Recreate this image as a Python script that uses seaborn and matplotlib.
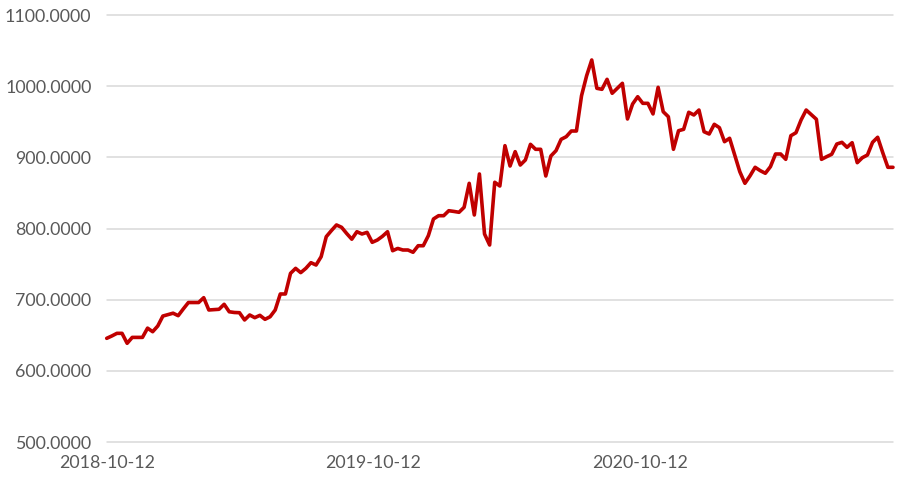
"""
Weekly price line chart, Oct 2018 - Sep 2021
Excel-style single red line with light horizontal gridlines
"""
import matplotlib
matplotlib.use("Agg")
import matplotlib.pyplot as plt
import matplotlib.dates as mdates
import matplotlib.ticker as mticker
import numpy as np
import pandas as pd
import seaborn as sns


# Weekly observations (Fridays), first one on 2018-10-12
START_DATE = "2018-10-12"

PRICES = [
    645.7, 649.0, 652.7, 652.7, 638.7, 647.0, 647.0, 647.0, 660.0, 655.0,
    663.0, 677.0, 679.0, 681.0, 677.5, 687.0, 696.0, 696.0, 696.0, 702.8,
    685.5, 686.0, 686.5, 693.5, 683.0, 682.0, 681.7, 671.5, 678.5, 674.7,
    678.0, 672.4, 676.0, 685.5, 708.0, 708.0, 737.0, 744.0, 738.0, 744.0,
    752.0, 748.7, 760.4, 788.5, 797.0, 805.0, 801.7, 793.0, 785.0, 795.5,
    792.3, 794.6, 780.6, 783.8, 789.0, 795.5, 768.8, 772.0, 769.8, 769.8,
    766.6, 775.8, 775.8, 790.0, 813.4, 818.0, 818.0, 825.0, 824.0, 822.8,
    829.8, 863.5, 819.0, 876.6, 792.3, 776.8, 865.0, 859.7, 916.4, 887.8,
    908.0, 889.2, 896.3, 918.3, 911.3, 911.3, 873.8, 901.9, 909.4, 925.3,
    929.0, 937.0, 937.0, 986.6, 1014.7, 1036.8, 997.0, 995.6, 1009.6, 990.0,
    997.0, 1004.0, 953.9, 974.9, 985.2, 975.9, 975.9, 961.0, 998.4, 964.1,
    957.1, 911.3, 937.4, 939.4, 963.3, 959.5, 966.5, 936.0, 932.8, 946.4,
    941.7, 922.0, 926.8, 903.3, 879.8, 863.5, 874.0, 886.0, 881.3, 877.6,
    886.9, 904.7, 904.7, 897.2, 930.4, 934.6, 952.5, 966.5, 960.0, 953.5,
    897.2, 900.9, 904.3, 918.7, 921.1, 914.1, 920.6, 892.5, 899.5, 903.3,
    921.1, 928.2, 906.5, 886.0, 886.0,
]

TICK_DATES = ["2018-10-12", "2019-10-12", "2020-10-12"]
Y_TICKS = [500, 600, 700, 800, 900, 1000, 1100]

LINE_COLOR = "#C00000"
GRID_COLOR = "#D9D9D9"
TEXT_COLOR = "#595959"


def build_frame():
    """Attach weekly dates to the price values"""
    dates = pd.date_range(START_DATE, periods=len(PRICES), freq="7D")
    return pd.DataFrame({"date": dates, "price": PRICES})


def plot_prices(df, save_path="out.png"):
    """Draw the line chart and save it"""
    sns.set_style("white")
    plt.rcParams["font.family"] = ["Lato", "DejaVu Sans"]

    fig = plt.figure(figsize=(8.99, 4.78), dpi=100)
    ax = fig.add_axes([0.1187, 0.0753, 0.8746, 0.8933])

    sns.lineplot(data=df, x="date", y="price", color=LINE_COLOR,
                 linewidth=2.6, ax=ax, zorder=3)

    ax.set_ylim(Y_TICKS[0], Y_TICKS[-1])
    ax.set_yticks(Y_TICKS)
    ax.yaxis.set_major_formatter(mticker.FormatStrFormatter("%.4f"))

    ax.set_xlim(df["date"].iloc[0], df["date"].iloc[-1])
    ax.set_xticks(pd.to_datetime(TICK_DATES))
    ax.xaxis.set_major_formatter(mdates.DateFormatter("%Y-%m-%d"))

    ax.set_xlabel("")
    ax.set_ylabel("")

    ax.grid(axis="y", color=GRID_COLOR, linewidth=1.1)
    ax.grid(axis="x", visible=False)
    for gl in ax.get_ygridlines():
        gl.set_clip_on(False)
    for line in ax.get_lines():
        line.set_clip_on(False)

    for spine in ax.spines.values():
        spine.set_visible(False)

    ax.tick_params(axis="y", length=0, pad=11, labelsize=12.8, labelcolor=TEXT_COLOR)
    ax.tick_params(axis="x", length=0, pad=9, labelsize=12.8, labelcolor=TEXT_COLOR)

    fig.savefig(save_path, dpi=100)


def main():
    df = build_frame()
    plot_prices(df, "out.png")


if __name__ == "__main__":
    main()
